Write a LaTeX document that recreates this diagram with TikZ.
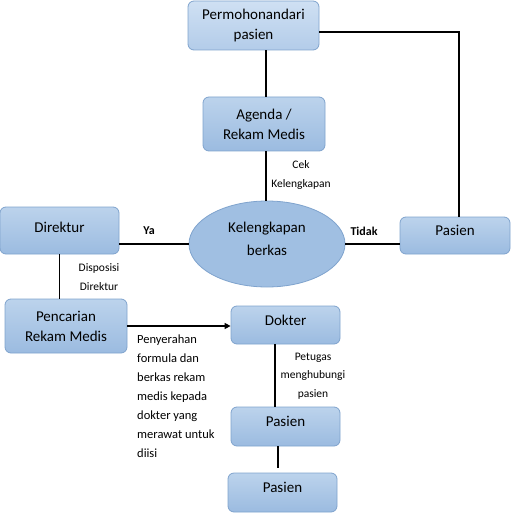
\documentclass[tikz,border=0pt]{standalone}
\usepackage{fontspec}
\setmainfont{Carlito}
\usetikzlibrary{arrows.meta,shapes.geometric}
\definecolor{bordc}{HTML}{7FA3CD}
\definecolor{topc}{HTML}{BCD3EC}
\definecolor{botc}{HTML}{9BBBE0}
\definecolor{ltopc}{HTML}{CFE0F3}
\definecolor{lbotc}{HTML}{B3CCE9}
\tikzset{
  box/.style={draw=bordc, line width=0.8pt, rounded corners=6pt, top color=topc, bottom color=botc,
    align=center, font=\fontsize{15}{20}\selectfont, inner sep=0pt},
  sbox/.style={box, text height=10pt, text depth=10pt},
  lbox/.style={box, top color=ltopc, bottom color=lbotc},
  oval/.style={ellipse, draw=bordc, line width=0.8pt, fill=botc!85!topc, inner sep=0pt},
  ovaltext/.style={align=center, font=\fontsize{15}{23}\selectfont, inner sep=0pt},
  conn/.style={line width=1.7pt, black},
  lbl/.style={font=\fontsize{11.5}{18.5}\selectfont, align=center, inner sep=0pt},
  blbl/.style={font=\fontsize{12}{14}\selectfont\bfseries, inner sep=0pt}
}
\begin{document}
\begin{tikzpicture}[x=1pt,y=-1pt]
\useasboundingbox (0,0) rectangle (512,513);
\node[lbox, minimum width=131, minimum height=49] (perm) at (253.5,25.5) {Permohonandari\\pasien};
\node[box, minimum width=122, minimum height=54] (agenda) at (264,124) {Agenda /\\Rekam Medis};
\node[oval, minimum width=156, minimum height=86] (ell) at (267,244) {};
\node[ovaltext] (elltext) at (267,239) {Kelengkapan\\berkas};
\node[box, minimum width=119, minimum height=47, text height=12pt, text depth=8pt] (dir) at (59.5,230.5) {Direktur};
\node[sbox, minimum width=110, minimum height=37] (pasR) at (455,235.5) {Pasien};
\node[box, minimum width=122, minimum height=54] (penc) at (66,326) {Pencarian\\Rekam Medis};
\node[sbox, minimum width=109, minimum height=38] (dok) at (285.5,325) {Dokter};
\node[sbox, minimum width=109, minimum height=39] (pas2) at (285.5,426.5) {Pasien};
\node[sbox, minimum width=109, minimum height=39] (pas3) at (282.5,492.5) {Pasien};

\node[lbl] (cek) at (301,175) {Cek\\Kelengkapan};
\node[blbl] (ya) at (149,231) {Ya};
\node[blbl] (tidak) at (364,231) {Tidak};
\node[lbl] (disp) at (99,277) {Disposisi\\Direktur};
\node[lbl, align=left, anchor=north west, font=\fontsize{12.5}{19}\selectfont] (peny) at (137,335) {Penyerahan\\formula dan\\berkas rekam\\medis kepada\\dokter yang\\merawat untuk\\diisi};
\node[lbl] (pet) at (313,376) {Petugas\\menghubungi\\pasien};

\draw[conn] (agenda.north -| 266,0) -- (perm.south -| 266,0);
\draw[conn] ([yshift=-6.5pt]perm.east) -| (459,0 |- pasR.north);
\draw[conn] (agenda.south -| 266,0) -- (ell.north -| 266,0);
\draw[conn] (dir.east |- ell.west) -- (ell.west);
\draw[conn] (ell.east) -- (pasR.west |- ell.east);
\draw[conn] (dir.south) -- (dir.south |- penc.north);
\draw[conn, -{Triangle[length=6pt,width=6pt]}] (penc.east) -- (dok.west |- penc.east);
\draw[conn] (dok.south -| 275,0) -- (pas2.north -| 275,0);
\draw[conn] (pas2.south -| 278,0) -- (278,468);
\end{tikzpicture}
\end{document}
